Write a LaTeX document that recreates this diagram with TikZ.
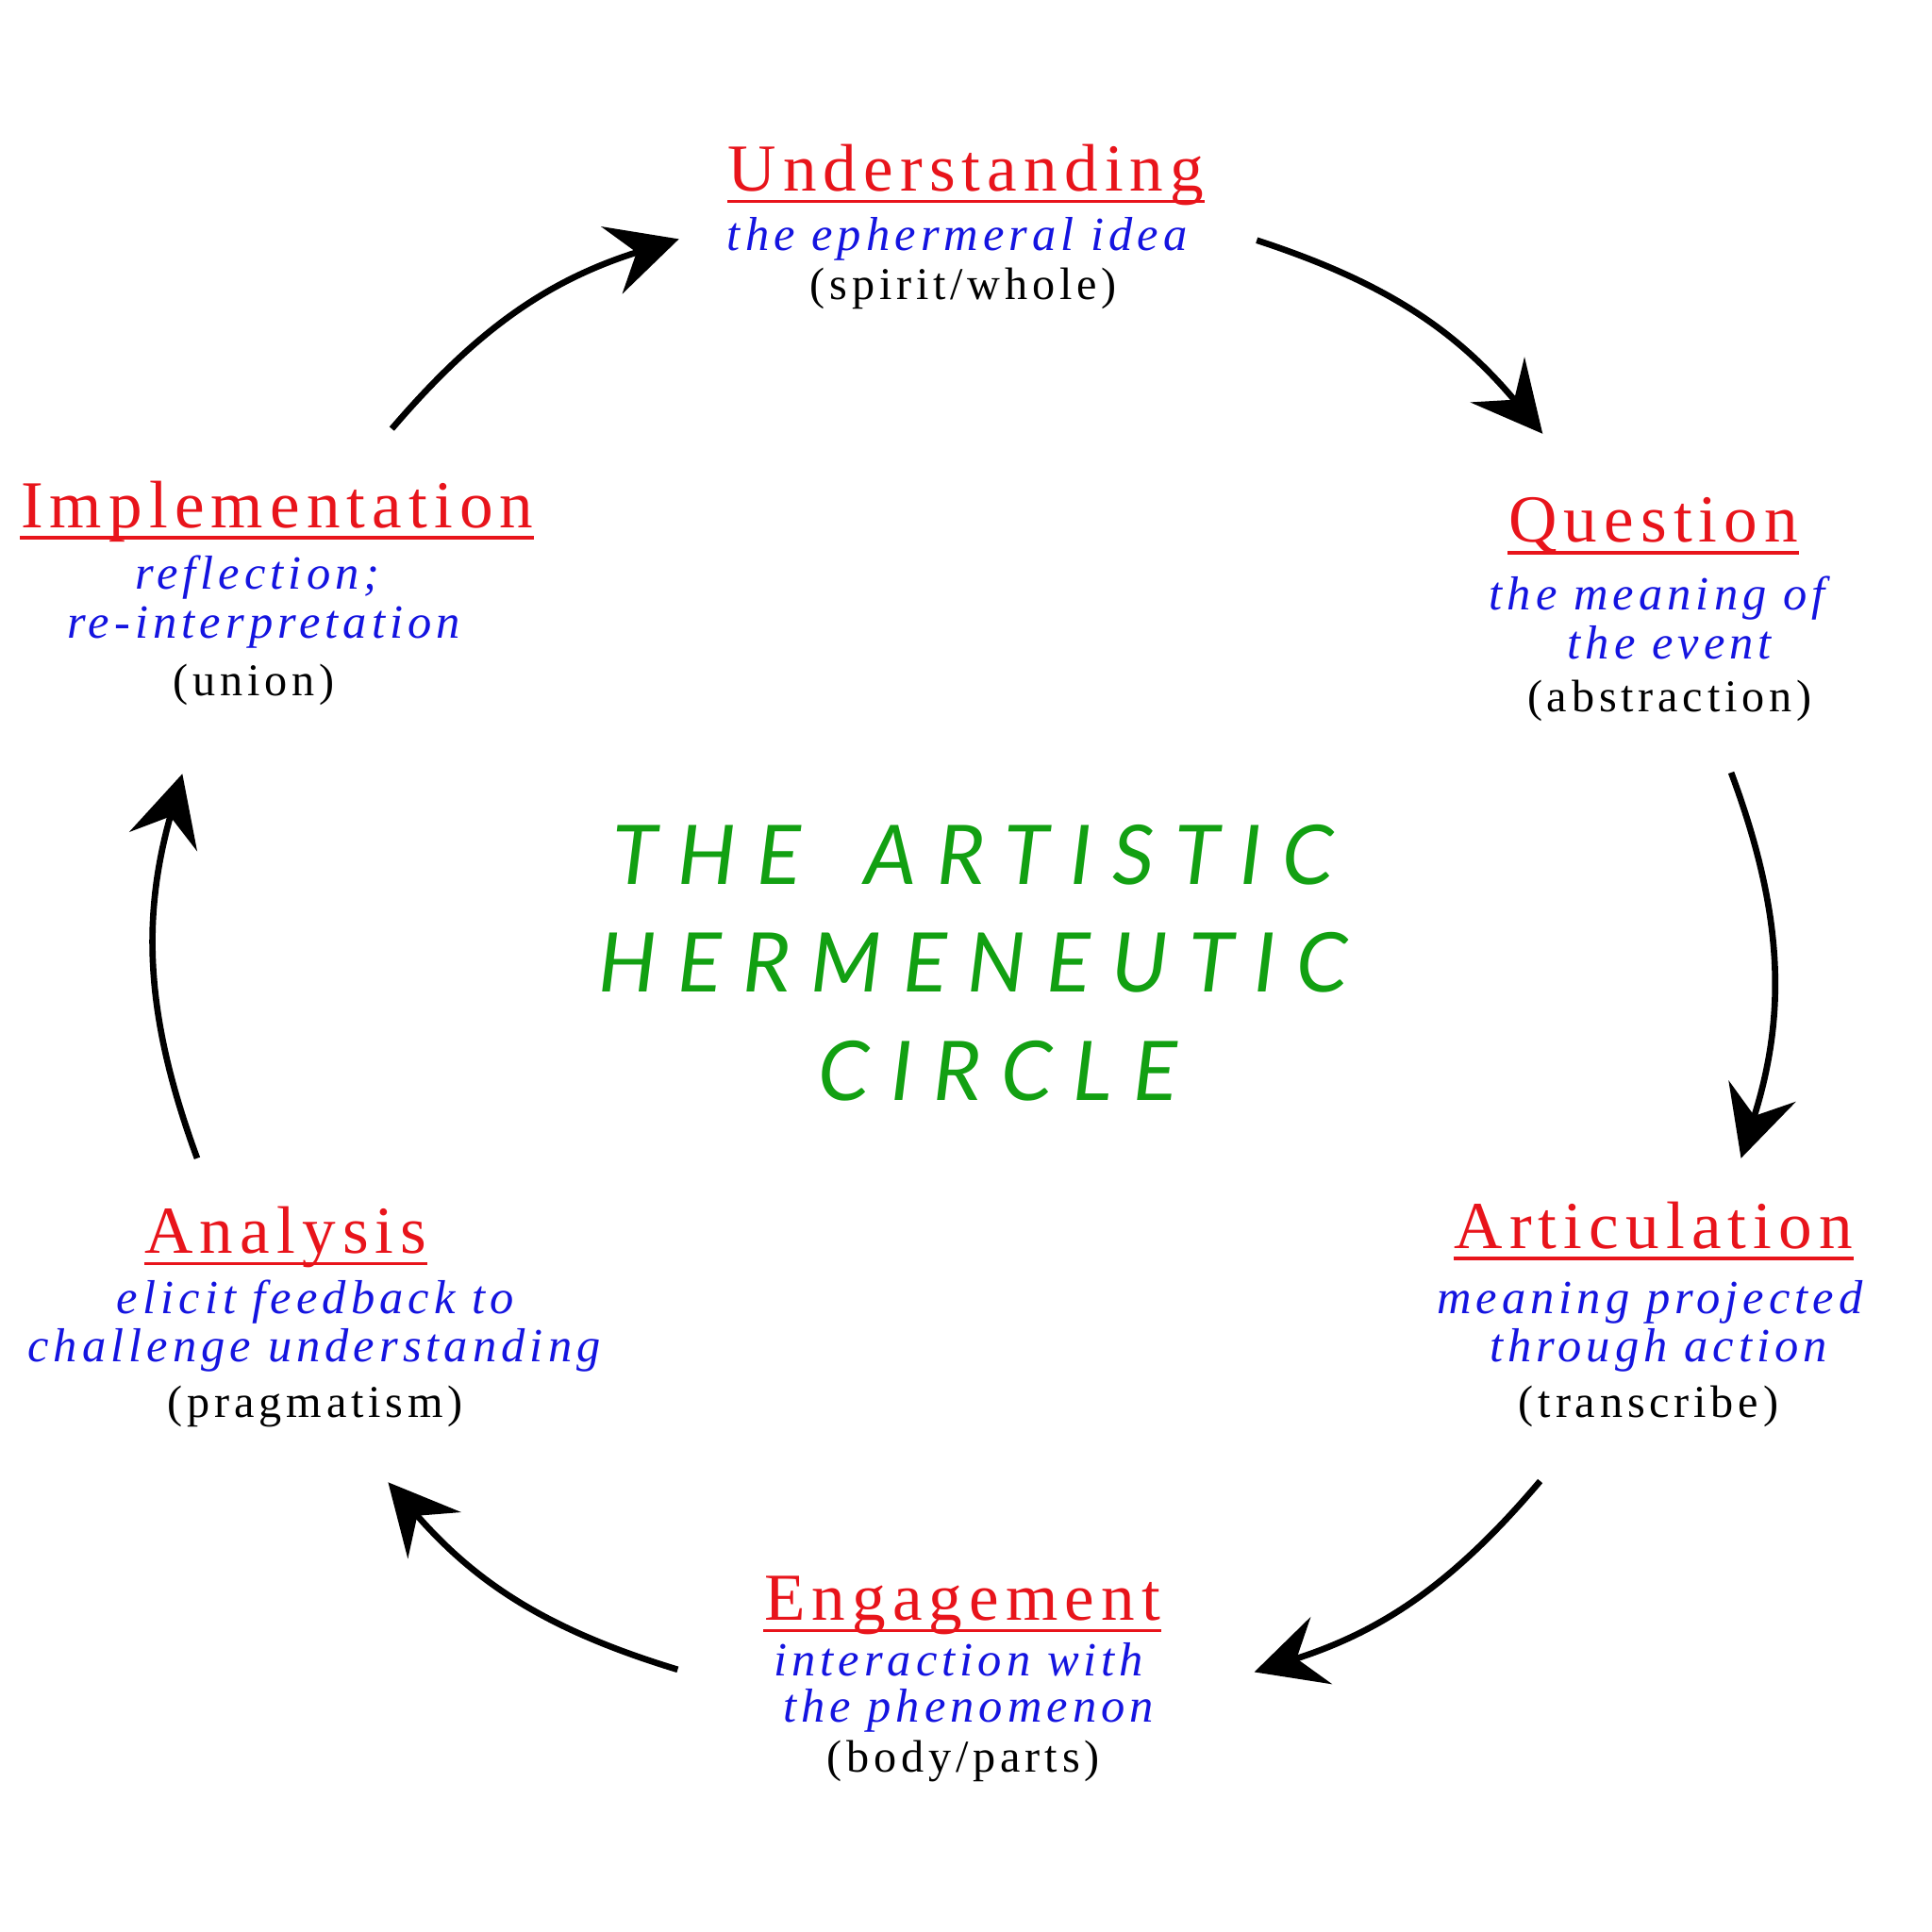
\documentclass[tikz,border=0pt]{standalone}
\usepackage{fontspec}
\setmainfont{Liberation Serif}
\newfontfamily\serifsp[LetterSpace=10]{Liberation Serif}
\newfontfamily\titlefont[LetterSpace=25]{Lato}
\usetikzlibrary{arrows.meta}
\definecolor{hred}{HTML}{E8141B}
\definecolor{hblue}{HTML}{1414E0}
\definecolor{hgreen}{HTML}{12A012}
\begin{document}
\begin{tikzpicture}[x=0.01cm,y=-0.01cm,
  head/.style={inner sep=0pt, anchor=base, text=hred, font=\serifsp\fontsize{15.5}{18}\selectfont},
  sub/.style={inner sep=0pt, anchor=base, text=hblue, font=\serifsp\itshape\fontsize{11}{13}\selectfont},
  note/.style={inner sep=0pt, anchor=base, text=black, font=\serifsp\fontsize{10.5}{12}\selectfont},
  ttl/.style={inner sep=0pt, anchor=base, text=hgreen, font=\titlefont\itshape\fontsize{19}{22}\selectfont},
  uline/.style={draw=hred, line width=0.8pt},
  arr/.style={line width=1.45pt, black, -{Stealth[length=0.57cm,width=0.57cm,inset=0.21cm]}}]
\fill[white] (0,0) rectangle (1568,1568);
\useasboundingbox (0,0) rectangle (1568,1568);

% Understanding
\node[head] (uH) at (784,155) {Understanding};
\node[sub]  (uS) at (777,203) {the ephermeral idea};
\node[note] (uN) at (782,243) {(spirit/whole)};
% Question
\node[head] (qH) at (1342,440) {Question};
\node[sub]  (qS1) at (1345,495) {the meaning of};
\node[sub]  (qS2) at (1355,535) {the event};
\node[note] (qN) at (1355,578) {(abstraction)};
% Implementation
\node[head] (iH) at (225,428) {Implementation};
\node[sub]  (iS1) at (209,478) {reflection;};
\node[sub]  (iS2) at (214,518) {re-interpretation};
\node[note] (iN) at (206,565) {(union)};
% Analysis
\node[head] (nH) at (232,1017) {Analysis};
\node[sub]  (nS1) at (256,1066) {elicit feedback to};
\node[sub]  (nS2) at (255,1105) {challenge understanding};
\node[note] (nN) at (256,1150) {(pragmatism)};
% Articulation
\node[head] (aH) at (1342,1013) {Articulation};
\node[sub]  (aS1) at (1339,1066) {meaning projected};
\node[sub]  (aS2) at (1346,1105) {through action};
\node[note] (aN) at (1338,1150) {(transcribe)};
% Engagement
\node[head] (eH) at (781,1315) {Engagement};
\node[sub]  (eS1) at (778,1360) {interaction with};
\node[sub]  (eS2) at (786,1398) {the phenomenon};
\node[note] (eN) at (782,1438) {(body/parts)};
% Title
\node[ttl] (t1) at (790,718) {THE\hspace{5.5pt} ARTISTIC};
\node[ttl] (t2) at (790,805) {HERMENEUTIC};
\node[ttl] (t3) at (810,893) {CIRCLE};

% underlines
\foreach \n in {uH,qH,iH,nH,aH,eH}{
  \draw[uline] ([yshift=-2.4pt]\n.base west) -- ([yshift=-2.4pt]\n.base east);
}

% arrow end points
\coordinate (a1s) at (318,348);  \coordinate (a1e) at (551,194);
\coordinate (a2s) at (1020,195); \coordinate (a2e) at (1252,352);
\coordinate (a3s) at (1405,627); \coordinate (a3e) at (1413,940);
\coordinate (a4s) at (1250,1202);\coordinate (a4e) at (1018,1357);
\coordinate (a5s) at (550,1355); \coordinate (a5e) at (315,1203);
\coordinate (a6s) at (160,940);  \coordinate (a6e) at (148,628);

\draw[arr] (a1s) to[bend left=16] (a1e);
\draw[arr] (a2s) to[bend left=16] (a2e);
\draw[arr] (a3s) to[bend left=19] (a3e);
\draw[arr] (a4s) to[bend left=16] (a4e);
\draw[arr] (a5s) to[bend left=16] (a5e);
\draw[arr] (a6s) to[bend left=18] (a6e);
\end{tikzpicture}
\end{document}
